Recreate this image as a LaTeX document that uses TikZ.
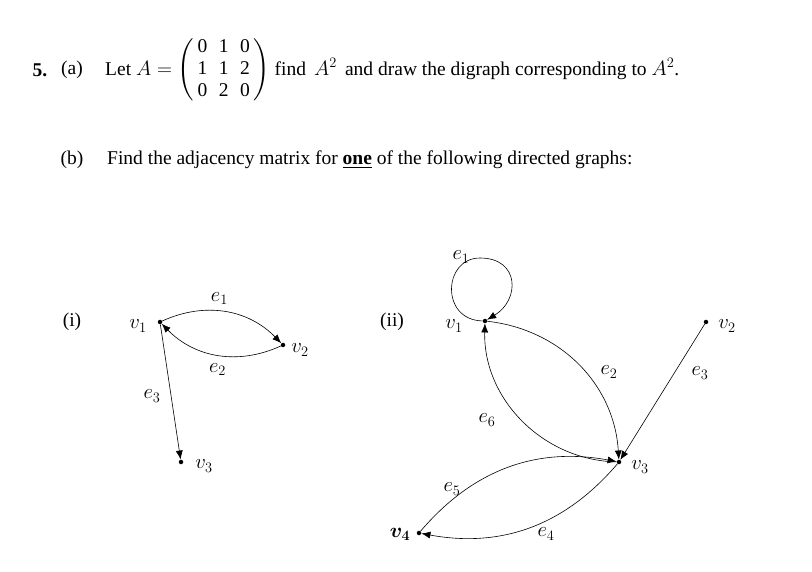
\documentclass[tikz,border=0pt]{standalone}
\usepackage{fontspec}
\setmainfont{Liberation Serif}
\usepackage{amsmath}
\usetikzlibrary{arrows.meta}
\begin{document}
\begin{tikzpicture}[x=1pt,y=-1pt,
  txt/.style={font=\fontsize{19.5}{21}\selectfont, inner sep=0pt},
  lab/.style={font=\fontsize{20}{22}\selectfont, inner sep=0pt},
  vtx/.style={circle,fill=black,inner sep=0pt,minimum size=4.5pt},
  edge/.style={line width=0.6pt,-{Latex[length=9pt,width=7pt]}},
  plain/.style={line width=0.6pt}]
\useasboundingbox (0,0) rectangle (812,572);
\fill[white] (0,0) rectangle (812,572);
\node[txt] (n5) at (40,70) {\textbf{5.}};
\node[txt] (na) at (72,70) {(a)};
\node[txt,anchor=west] (nl) at (105,70) {Let $A=\left(\renewcommand{\arraystretch}{1.05}\begin{array}{@{\,}c@{\;\;}c@{\;\;}c@{\,}}\text{0}&\text{1}&\text{0}\\\text{1}&\text{1}&\text{2}\\\text{0}&\text{2}&\text{0}\end{array}\right)$ find\, $A^2$\, and draw the digraph corresponding to $A^2$.};
\node[txt] (nb) at (72,160) {(b)};
\node[txt,anchor=west] (nbt) at (107,160) {Find the adjacency matrix for \textbf{\underline{one}} of the following directed graphs:};
\node[txt] (ni) at (72,322) {(i)};
\node[txt] (nii) at (392,322) {(ii)};
% graph (i)
\node[vtx] (a1) at (160,322) {};
\node[vtx] (a2) at (283,345) {};
\node[vtx] (a3) at (181,462) {};
\node[lab] at (138,326) {$v_1$};
\node[lab] at (300,350) {$v_2$};
\node[lab] at (204,466) {$v_3$};
\draw[edge] (a1) to[bend left=35] node[lab,pos=0.45,above=6pt]{$e_1$} (a2);
\draw[edge] (a2) to[bend left=35] node[lab,pos=0.5,below=8pt]{$e_2$} (a1);
\draw[edge] (a1) -- (a3);
\node[lab] at (152,396) {$e_3$};
% graph (ii)
\node[vtx] (b1) at (485,321) {};
\node[vtx] (b2) at (706,322) {};
\node[vtx] (b3) at (619,462) {};
\node[vtx] (b4) at (419,533) {};
\node[lab] at (454,326) {$v_1$};
\node[lab] at (727,326) {$v_2$};
\node[lab] at (640,467) {$v_3$};
\node[lab] at (400,534) {$\boldsymbol{v_4}$};
\draw[edge] (b1) .. controls (440,320) and (443,258) .. (480,258) .. controls (520,258) and (520,300) .. (b1);
\node[lab] at (461,257) {$e_1$};
\draw[edge] (b1) to[bend left=40] (b3);
\node[lab] at (609,372) {$e_2$};
\draw[edge] (b3) to[bend left=45] (b1);
\node[lab] at (487,420) {$e_6$};
\draw[edge] (b2) -- (b3);
\node[lab] at (700,373) {$e_3$};
\draw[edge] (b4) to[bend left=30] (b3);
\node[lab] at (452,489) {$e_5$};
\draw[edge] (b3) to[bend left=30] (b4);
\node[lab] at (546,534) {$e_4$};
\end{tikzpicture}
\end{document}
